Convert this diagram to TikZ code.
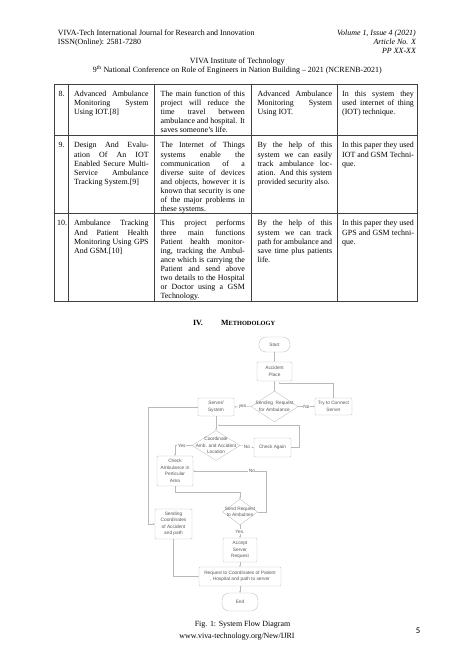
\documentclass[tikz,border=0pt]{standalone}
\usepackage{fontspec}
\setmainfont{Liberation Serif}
\newfontfamily\flowsans{Liberation Sans}
\newfontfamily\pagenofont{Carlito}
\usetikzlibrary{arrows.meta, calc, shapes.geometric}

% one pixel of the page
\newdimen\ppx
\ppx=0.443038mm
\newcommand{\tabfont}{\fontsize{10}{11.4}\selectfont}
\newcommand{\flowfont}{\flowsans\fontsize{6}{8.2}\selectfont}
\tolerance=10000
\hbadness=10000
\hyphenpenalty=10000

\tikzset{
  txt/.style={inner sep=0pt},
  cellnum/.style={anchor=north west, inner sep=0pt, font=\tabfont, execute at begin node=\strut},
  cell/.style={cellnum, align=justify},
  tabline/.style={draw=black!75, line width=0.7pt},
  flowbox/.style={draw=gray!55, fill=white, rounded corners=1.5pt, text=black!65, font=\flowfont, align=center, inner sep=0.5pt},
  flowterm/.style={flowbox, rounded corners=7\ppx},
  flowdec/.style={diamond, draw=gray!55, fill=white, text=black!65, font=\flowfont, align=center, inner sep=-10\ppx},
  flowline/.style={draw=gray!55, line width=0.5pt, -{Stealth[length=2.4pt, width=2.2pt]}},
  flowlbl/.style={font=\flowfont, text=black!65, fill=white, inner sep=0.6pt}
}

\begin{document}
\begin{tikzpicture}[x=\ppx, y=-\ppx]
\useasboundingbox (0,0) rectangle (474,670);

% Page header
\node[txt, anchor=base west] (jrnl) at (57.7,35.7) {VIVA-Tech International Journal for Research and Innovation};
\node[txt, anchor=base west] (issn) at (57.7,44.7) {ISSN(Online): 2581-7280};
\node[txt, anchor=base east, font=\itshape] (vol) at (416,35.7) {Volume 1, Issue 4 (2021)};
\node[txt, anchor=base east, font=\itshape] (art) at (416,44.7) {Article No. X};
\node[txt, anchor=base east, font=\itshape] (pp) at (416,53.4) {PP XX-XX};
\node[txt, anchor=base] (inst) at (237.3,63.4) {VIVA Institute of Technology};
\node[txt, anchor=base] (conf) at (237.3,72.4) {9\textsuperscript{th} National Conference on Role of Engineers in Nation Building – 2021 (NCRENB-2021)};

% Table grid
\draw[tabline] (54,84) rectangle (417,301);
\foreach \x in {68.3,154.5,251,337} \draw[tabline] (\x,84) -- (\x,301);
\foreach \y in {135.5,213.5} \draw[tabline] (54,\y) -- (417,\y);

% Row 8
\node[cellnum] (n8) at (58.5,90) {8.};
\node[cell, text width=33mm] (a8) at (74,90) {Advanced Ambulance\linebreak Monitoring System\linebreak Using IOT.[8]};
\node[cell, text width=37.3mm] (b8) at (160.5,90) {The main function of this\linebreak project will reduce the\linebreak time travel between\linebreak ambulance and hospital. It\linebreak saves someone’s life.};
\node[cell, text width=33mm] (c8) at (257.5,90) {Advanced Ambulance\linebreak Monitoring System\linebreak Using IOT.};
\node[cell, text width=31.8mm] (d8) at (342,90) {In this system they\linebreak used internet of thing\linebreak (IOT) technique.};

% Row 9
\node[cellnum] (n9) at (58.5,141.5) {9.};
\node[cell, text width=33mm] (a9) at (74,141.5) {Design And Evalu-\linebreak ation Of An IOT\linebreak Enabled Secure Multi-\linebreak Service Ambulance\linebreak Tracking System.[9]};
\node[cell, text width=37.3mm] (b9) at (160.5,141.5) {The Internet of Things\linebreak systems enable the\linebreak communication of a\linebreak diverse suite of devices\linebreak and objects, however it is\linebreak known that security is one\linebreak of the major problems in\linebreak these systems.};
\node[cell, text width=33mm] (c9) at (257.5,141.5) {By the help of this\linebreak system we can easily\linebreak track ambulance loc-\linebreak ation. And this system\linebreak provided security also.};
\node[cell, text width=31.8mm] (d9) at (342,141.5) {In this paper they used\linebreak IOT and GSM Techni-\linebreak que.};

% Row 10
\node[cellnum] (n10) at (57,219.5) {10.};
\node[cell, text width=33mm] (a10) at (74,219.5) {Ambulance Tracking\linebreak And Patient Health\linebreak Monitoring Using GPS\linebreak And GSM.[10]};
\node[cell, text width=37.3mm] (b10) at (160.5,219.5) {This project performs\linebreak three main functions\linebreak Patient health monitor-\linebreak ing, tracking the Ambul-\linebreak ance which is carrying the\linebreak Patient and send above\linebreak two details to the Hospital\linebreak or Doctor using a GSM\linebreak Technology.};
\node[cell, text width=33mm] (c10) at (257.5,219.5) {By the help of this\linebreak system we can track\linebreak path for ambulance and\linebreak save time plus patients\linebreak life.};
\node[cell, text width=31.8mm] (d10) at (342,219.5) {In this paper they used\linebreak GPS and GSM techni-\linebreak que.};

% Section heading
\node[txt, anchor=base west, font=\bfseries] (secno) at (193,325.7) {IV.};
\node[txt, anchor=base west, font=\bfseries] (sect) at (221,325.7) {M{\fontsize{8}{9.6}\selectfont ETHODOLOGY}};

% Flow diagram - boxes
\node[flowterm, minimum width=31\ppx, minimum height=15\ppx] (start) at (274.5,344.5) {Start};
\node[flowbox, minimum width=35\ppx, minimum height=19\ppx] (acc) at (274.5,371.5) {Accident\\Place};
\node[flowdec, minimum width=47\ppx, minimum height=31\ppx] (sreq) at (274.5,406.5) {Sending\ \ Request\\for Ambulance};
\node[flowbox, minimum width=37\ppx, minimum height=17\ppx] (try) at (333.5,406.5) {Try to Connect\\Server};
\node[flowbox, minimum width=36\ppx, minimum height=18\ppx] (server) at (216,407) {Server/\\System};
\node[flowdec, minimum width=48\ppx, minimum height=30\ppx] (cdec) at (216,445.5) {Coordinate\\Amb. and Accident\\Location};
\node[flowbox, minimum width=37\ppx, minimum height=19\ppx] (again) at (272.5,447.5) {Check Again};
\node[flowbox, minimum width=36\ppx, minimum height=30\ppx] (chkamb) at (175,471) {Check\\Ambulance in\\Perticular\\Area};
\node[flowdec, minimum width=35\ppx, minimum height=26\ppx] (sdec) at (240,512) {Send Request\\to Ambulnes};
\node[flowbox, minimum width=37\ppx, minimum height=30\ppx] (sendc) at (173.5,524) {Sending\\Coordinates\\of Accident\\and path};
\node[flowbox, minimum width=34\ppx, minimum height=24\ppx] (accept) at (240,550) {Accept\\Server\\Request};
\node[flowbox, minimum width=82\ppx, minimum height=19\ppx] (req) at (240,576.5) {Request to Coordinates of Patient\\, Hospital and path to server};
\node[flowterm, minimum width=36\ppx, minimum height=18\ppx] (fin) at (240,602) {End};

% Flow diagram - connectors
\coordinate (accin) at ($(acc.south)+(4,2)$);
\coordinate (cdecin) at ($(cdec.north)+(2,-5)$);
\draw[flowline] (start) -- (acc);
\draw[flowline] (sreq) -- (acc);
\draw[flowline] (try.north) |- (accin);
\draw[flowline] (sreq.west) -- node[flowlbl] (yes1) {yes} (server.east);
\draw[flowline] (sreq.east) -- node[flowlbl] (no1) {No} (try.west);
\draw[flowline] (server.west) -- ++(-50,0) |- (sendc.west);
\draw[flowline] (server) -- (cdec);
\draw[flowline] (cdec.east) -- node[flowlbl] (no2) {No} (again.west);
\draw[flowline] (again.east) -- ++(8,0) |- (cdecin);
\draw[flowline] (cdec.west) -| node[flowlbl, pos=0.3] (yes2) {Yes} (chkamb.north);
\draw[flowline] (chkamb.south) -- ++(0,6) -| (sdec.north);
\draw[flowline] (sdec.east) -- ++(9,0) |- node[flowlbl, pos=0.6] (no3) {No} (chkamb.east);
\draw[flowline] (sdec) -- node[flowlbl] (yes3) {Yes.} (accept);
\draw[flowline] (accept) -- (req);
\draw[flowline] (sendc.south) |- (req.west);
\draw[flowline] (req) -- (fin);

% Caption and footer
\node[txt, anchor=base] (cap) at (242.5,626.4) {Fig. 1: System Flow Diagram};
\node[txt, anchor=base] (url) at (237,638.5) {www.viva-technology.org/New/IJRI};
\node[txt, anchor=base, font=\pagenofont\fontsize{11}{13}\selectfont] (pgno) at (418,633) {5};
\end{tikzpicture}
\end{document}
